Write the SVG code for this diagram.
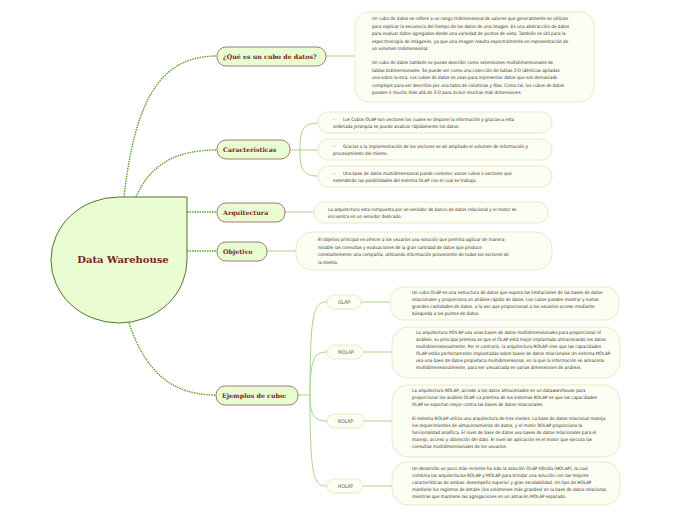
<svg xmlns="http://www.w3.org/2000/svg" width="696" height="520" viewBox="0 0 696 520">
<style>
.n{fill:#e9fcd2;stroke:#a27a72;stroke-width:1}
.nt{font-family:"DejaVu Serif",serif;font-weight:bold;font-size:6.3px;fill:#7a1f1f}
.d{fill:#fbfef3;stroke:#efe7c3;stroke-width:1}
.s{fill:#fbfef3;stroke:#efe7c3;stroke-width:1}
.st{font-family:"DejaVu Sans Condensed","DejaVu Sans",sans-serif;font-size:5px;fill:#6a5a4a}
.dt{font-family:"DejaVu Sans Condensed","DejaVu Sans",sans-serif;font-size:4.6px;fill:#3a2a1a}
.c1{fill:none;stroke:#5e9e2e;stroke-width:1.4;stroke-dasharray:1.5,1}
.c2{fill:none;stroke:#a9d48a;stroke-width:1}
</style>
<rect width="696" height="520" fill="#fff"/>
<g id="connectors">
<path class="c1" d="M124,197 C135,100 160,56 217,56"/>
<path class="c1" d="M136,197 C150,165 175,150 217,150"/>
<path class="c1" d="M187,212 L217,212"/>
<path class="c1" d="M187,251 L217,251"/>
<path class="c1" d="M129,323 C145,370 170,395 216,395"/>
<path class="c2" d="M326,56 L355,56"/>
<path class="c2" d="M290,150 L318,150 M300,150 C300,130 303,123 318,123 M300,150 C300,170 303,176 318,176"/>
<path class="c2" d="M285,212 L314,212"/>
<path class="c2" d="M267,251 L296,251"/>
<path class="c2" d="M298,395 L310,395 M310,395 C310,310 314,302 327,302 M310,395 C310,360 314,352 327,352 M310,395 C310,415 314,421 327,421 M310,395 C310,480 314,486 327,486"/>
<path class="c2" d="M361,302 L390,302 M363,352 L392,352 M364,421 L392,421 M363,486 L392,486"/>
</g>
<g id="center">
<path d="M187,197 L187,260 A68,63 0 0 1 119,323 A68,63 0 0 1 51,260 A68,63 0 0 1 119,197 Z" fill="#e9fcd2" stroke="#4d7a2a" stroke-width="1"/>
<text x="123" y="263" text-anchor="middle" font-family="DejaVu Serif,serif" font-weight="bold" font-size="10" fill="#7a1f1f">Data Warehouse</text>
</g>
<g id="n-que"><rect class="n" x="217" y="47" width="109" height="19" rx="9"/><text class="nt" x="223" y="59">¿Qué es un cubo de datos?</text></g>
<g id="n-car"><rect class="n" x="217" y="140" width="73" height="19" rx="9"/><text class="nt" x="223" y="152">Características</text></g>
<g id="n-arq"><rect class="n" x="217" y="203" width="68" height="19" rx="9"/><text class="nt" x="223" y="215">Arquitectura</text></g>
<g id="n-obj"><rect class="n" x="217" y="242" width="50" height="19" rx="9"/><text class="nt" x="223" y="254">Objetivo</text></g>
<g id="n-eje"><rect class="n" x="216" y="386" width="82" height="19" rx="9"/><text class="nt" x="222" y="398">Ejemplos de cubo:</text></g>
<g id="n-olap"><rect class="s" x="327" y="295" width="34" height="14" rx="7"/><text class="st" x="338" y="304">OLAP:</text></g>
<g id="n-molap"><rect class="s" x="327" y="345" width="36" height="14" rx="7"/><text class="st" x="338" y="354">MOLAP</text></g>
<g id="n-rolap"><rect class="s" x="327" y="414" width="37" height="14" rx="7"/><text class="st" x="338" y="423">ROLAP:</text></g>
<g id="n-holap"><rect class="s" x="327" y="479" width="36" height="14" rx="7"/><text class="st" x="338" y="488">HOLAP</text></g>
<g id="d-que"><rect class="d" x="355" y="12" width="239" height="90" rx="14"/>
<text class="dt"><tspan x="372" y="20">Un cubo de datos se refiere a un rango tridimensional de valores que generalmente se utilizan</tspan><tspan x="372" y="28">para explicar la secuencia del tiempo de los datos de una imagen. Es una abstracción de datos</tspan><tspan x="372" y="35">para evaluar datos agregados desde una variedad de puntos de vista. También es útil para la</tspan><tspan x="372" y="43">espectroscopía de imágenes, ya que una imagen resulta espectralmente en representación de</tspan><tspan x="372" y="50">un volumen tridimensional.</tspan><tspan x="372" y="64">Un cubo de datos también se puede describir como extensiones multidimensionales de</tspan><tspan x="372" y="72">tablas bidimensionales. Se puede ver como una colección de tablas 2-D idénticas apiladas</tspan><tspan x="372" y="79">una sobre la otra. Los cubos de datos se usan para representar datos que son demasiado</tspan><tspan x="372" y="87">complejos para ser descritos por una tabla de columnas y filas. Como tal, los cubos de datos</tspan><tspan x="372" y="94">pueden ir mucho más allá de 3-D para incluir muchas más dimensiones</tspan></text></g>
<g id="d-car1"><rect class="d" x="318" y="112" width="234" height="21" rx="10"/><text class="dt"><tspan x="333" y="121">-</tspan><tspan x="343" y="121">Los Cubos OLAP son vectores los cuales se dispone la información y gracias a esta</tspan><tspan x="333" y="128">ordenada jerarquía se puede analizar rápidamente los datos.</tspan></text></g>
<g id="d-car2"><rect class="d" x="318" y="139" width="234" height="21" rx="10"/><text class="dt"><tspan x="333" y="148">-</tspan><tspan x="343" y="148">Gracias a la implementación de los vectores se ah ampliado el volumen de información y</tspan><tspan x="333" y="155">procesamiento del mismo.</tspan></text></g>
<g id="d-car3"><rect class="d" x="318" y="166" width="234" height="21" rx="10"/><text class="dt"><tspan x="333" y="175">-</tspan><tspan x="343" y="175">Una base de datos multidimensional puede contener varios cubos o vectores que</tspan><tspan x="333" y="182">extenderán las posibilidades del sistema OLAP con el cual se trabaja.</tspan></text></g>
<g id="d-arq"><rect class="d" x="314" y="202" width="234" height="21" rx="10"/><text class="dt"><tspan x="328" y="211">La arquitectura esta compuesta por un servidor de banco de datos relacional y el motor se</tspan><tspan x="328" y="218">encuentra en un servidor dedicado.</tspan></text></g>
<g id="d-obj"><rect class="d" x="296" y="232" width="256" height="38" rx="16"/><text class="dt"><tspan x="318" y="241">El objetivo principal es ofrecer a los usuarios una solución que permita agilizar de manera</tspan><tspan x="318" y="249">notable las consultas y evaluaciones de la gran cantidad de datos que produce</tspan><tspan x="318" y="256">constantemente una compañía, utilizando información proveniente de todos los sectores de</tspan><tspan x="318" y="264">la misma.</tspan></text></g>
<g id="d-olap"><rect class="d" x="390" y="287" width="229" height="33" rx="14"/><text class="dt"><tspan x="412" y="294">Un cubo OLAP es una estructura de datos que supera las limitaciones de las bases de datos</tspan><tspan x="412" y="301">relacionales y proporciona un análisis rápido de datos. Los cubos pueden mostrar y sumar</tspan><tspan x="412" y="308">grandes cantidades de datos, a la vez que proporcionan a los usuarios acceso mediante</tspan><tspan x="412" y="315">búsqueda a los puntos de datos.</tspan></text></g>
<g id="d-molap"><rect class="d" x="392" y="327" width="228" height="51" rx="16"/><text class="dt"><tspan x="416" y="334">La arquitectura MOLAP usa unas bases de datos multidimensionales para proporcionar el</tspan><tspan x="416" y="341">análisis, su principal premisa es que el OLAP está mejor implantado almacenando los datos</tspan><tspan x="416" y="348">multidimensionalmente. Por el contrario, la arquitectura ROLAP cree que las capacidades</tspan><tspan x="416" y="355">OLAP están perfectamente implantadas sobre bases de datos relacionales Un sistema MOLAP</tspan><tspan x="416" y="362">usa una base de datos propietaria multidimensional, en la que la información se almacena</tspan><tspan x="416" y="369">multidimensionalmente, para ser visualizada en varias dimensiones de análisis.</tspan></text></g>
<g id="d-rolap"><rect class="d" x="392" y="385" width="228" height="72" rx="16"/><text class="dt"><tspan x="412" y="392">La arquitectura ROLAP, accede a los datos almacenados en un datawarehouse para</tspan><tspan x="412" y="399">proporcionar los análisis OLAP. La premisa de los sistemas ROLAP es que las capacidades</tspan><tspan x="412" y="406">OLAP se soportan mejor contra las bases de datos relacionales.</tspan><tspan x="412" y="420">El sistema ROLAP utiliza una arquitectura de tres niveles. La base de datos relacional maneja</tspan><tspan x="412" y="427">los requerimientos de almacenamiento de datos, y el motor ROLAP proporciona la</tspan><tspan x="412" y="434">funcionalidad analítica. El nivel de base de datos usa bases de datos relacionales para el</tspan><tspan x="412" y="441">manejo, acceso y obtención del dato. El nivel de aplicación es el motor que ejecuta las</tspan><tspan x="412" y="448">consultas multidimensionales de los usuarios.</tspan></text></g>
<g id="d-holap"><rect class="d" x="392" y="462" width="228" height="43" rx="16"/><text class="dt"><tspan x="412" y="470">Un desarrollo un poco más reciente ha sido la solución OLAP híbrida (HOLAP), la cual</tspan><tspan x="412" y="477">combina las arquitecturas ROLAP y MOLAP para brindar una solución con las mejores</tspan><tspan x="412" y="484">características de ambas: desempeño superior y gran escalabilidad. Un tipo de HOLAP</tspan><tspan x="412" y="491">mantiene los registros de detalle (los volúmenes más grandes) en la base de datos relacional,</tspan><tspan x="412" y="498">mientras que mantiene las agregaciones en un almacén MOLAP separado.</tspan></text></g>
</svg>
